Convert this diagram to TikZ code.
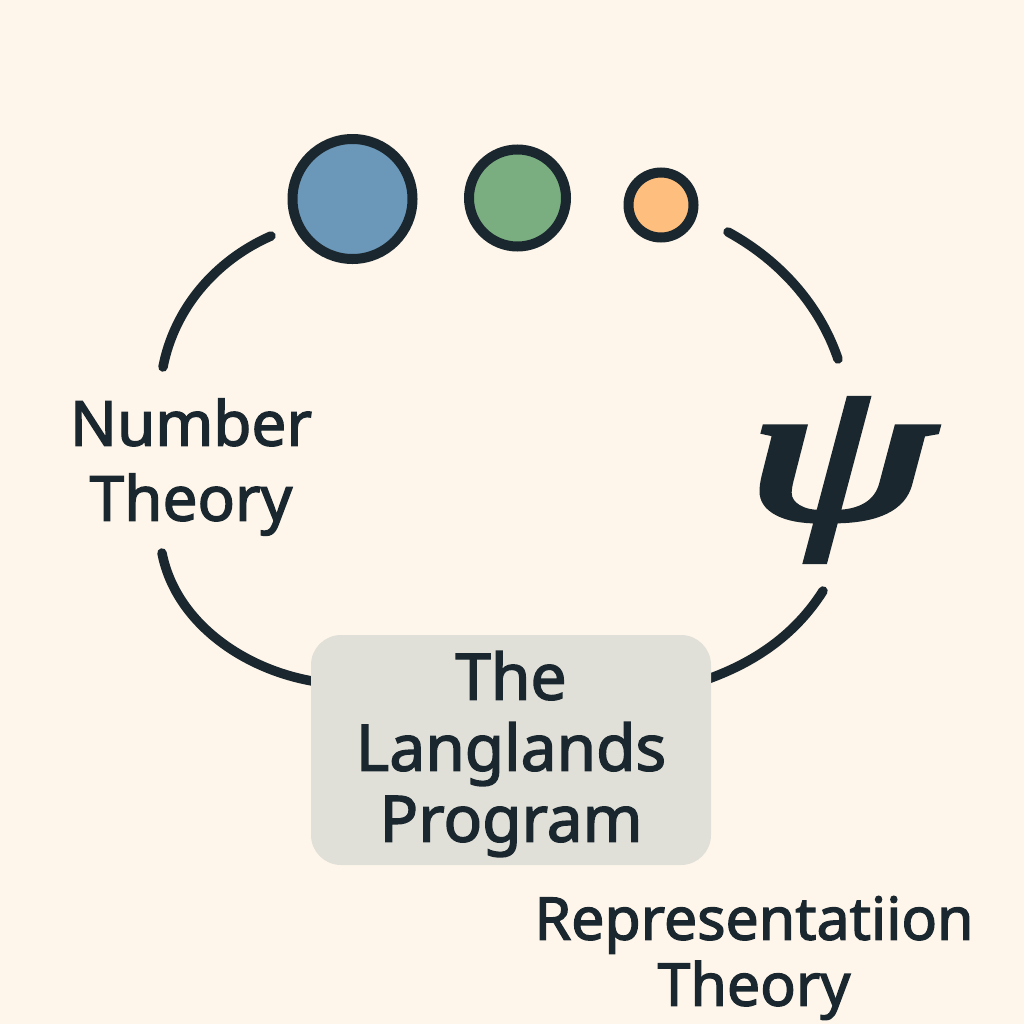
\documentclass[tikz,border=0pt]{standalone}
\usepackage{fontspec}
\setmainfont[FakeBold=2.2]{Noto Sans}
\newfontfamily\psifont[FakeBold=3]{Liberation Serif Italic}
\usetikzlibrary{positioning}
\definecolor{bgcream}{HTML}{FEF6EB}
\definecolor{inkdark}{HTML}{1A272E}
\definecolor{boxgrey}{HTML}{E0E0D9}
\definecolor{ballblue}{HTML}{6B97B8}
\definecolor{ballgreen}{HTML}{7AAE80}
\definecolor{ballorange}{HTML}{FDBE7E}
\tikzset{
  ball/.style={circle,draw=inkdark,line width=10bp,inner sep=0pt},
  arcline/.style={draw=inkdark,line width=9.5bp,line cap=round},
  lbl/.style={text=inkdark,align=center},
}
\begin{document}
\begin{tikzpicture}[x=1bp,y=-1bp]
\useasboundingbox (0,0) rectangle (1024,1024);
\fill[bgcream] (0,0) rectangle (1024,1024);

\node[ball,fill=ballblue,minimum size=120bp] (blue) at (352.5,199) {};
\node[ball,fill=ballgreen,minimum size=97bp] (green) at (517.5,198) {};
\node[ball,fill=ballorange,minimum size=65bp] (orange) at (661,205) {};

\coordinate (arcTLa) at (271,236);
\coordinate (arcTLb) at (163,367);
\coordinate (arcTRa) at (728,232);
\coordinate (arcTRb) at (838,359);
\coordinate (arcBLa) at (162,553);
\coordinate (arcBLb) at (312,681);
\coordinate (arcBRa) at (823,591);
\coordinate (arcBRb) at (708,679);

\draw[arcline] (arcTLa) .. controls (214,261) and (174,310) .. (arcTLb);
\draw[arcline] (arcTRa) .. controls (781,261) and (820,306) .. (arcTRb);
\draw[arcline] (arcBLa) .. controls (175,620) and (240,668) .. (arcBLb);
\draw[arcline] (arcBRa) .. controls (795,635) and (755,662) .. (arcBRb);

\node[fill=boxgrey,rounded corners=30bp,minimum width=400bp,minimum height=230bp] (box) at (511,750) {};
\node[lbl,font=\fontsize{64bp}{71bp}\selectfont] (title) at (511,754) {The\\Langlands\\Program};
\node[lbl,font=\fontsize{62bp}{75bp}\selectfont] (number) at (191,467) {Number\\Theory};
\node[lbl,font=\fontsize{59bp}{66bp}\selectfont] (repr) at (754,958) {Representatiion\\Theory};
\node[text=inkdark,inner sep=0pt,xscale=30,yscale=20,font=\psifont] (psi) at (839,480) {ψ};
\end{tikzpicture}
\end{document}
